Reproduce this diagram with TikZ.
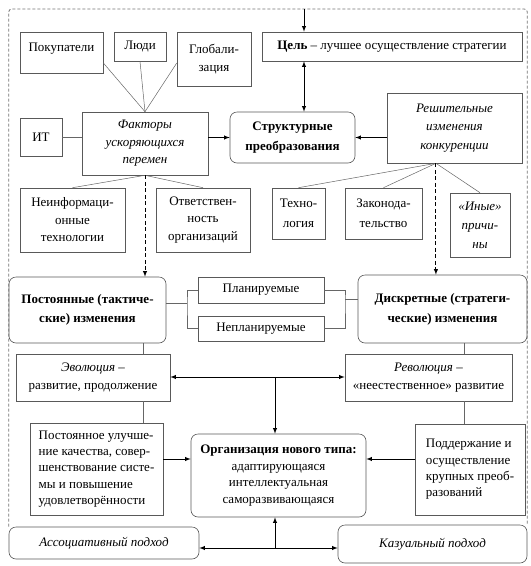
\documentclass[tikz,border=0pt]{standalone}
\usepackage{fontspec}
\setmainfont{Liberation Serif}
\usetikzlibrary{positioning,arrows,calc}

\begin{document}
\begin{tikzpicture}[
    x=1pt,y=-1pt,
    box/.style={rectangle,draw=black!65,line width=0.6pt,inner sep=1pt,align=center,font=\fontsize{13}{17.5}\selectfont},
    rbox/.style={box,rounded corners=7pt},
    tight/.style={font=\fontsize{13}{16.4}\selectfont},
    link/.style={draw=black!60,line width=0.5pt},
    arrow/.style={->,>=latex,line width=0.9pt,black},
    dasharrow/.style={arrow,dash pattern=on 4pt off 2.5pt},
    frame/.style={draw=black!55,line width=0.8pt,dash pattern=on 3pt off 2pt,rounded corners=3pt}
]
\useasboundingbox (0,0) rectangle (531,566);

\node[box,minimum width=83pt,minimum height=41pt] (buyers) at (61.5,52.5) {Покупатели\\[-6pt]};
\node[box,minimum width=52pt,minimum height=29pt] (people) at (140,46.5) {Люди};
\node[box,minimum width=74pt,minimum height=54pt] (glob) at (214,59) {Глобали-\\зация};
\node[box,minimum width=260pt,minimum height=29pt] (goal) at (392,46.5) {\textbf{Цель} – лучшее осуществление стратегии};

\node[box,minimum width=42pt,minimum height=38pt] (it) at (41,137) {ИТ};
\node[box,minimum width=126pt,minimum height=63pt,font=\fontsize{13}{17.5}\selectfont\itshape] (factors) at (145,143.5) {Факторы\\ускоряющихся\\перемен};
\node[rbox,minimum width=125pt,minimum height=51pt,font=\fontsize{13}{20}\selectfont\bfseries] (struct) at (292.5,137.5) {Структурные\\преобразования};
\node[box,minimum width=135pt,minimum height=70pt,font=\fontsize{13}{18.5}\selectfont\itshape] (decisive) at (454.5,128) {Решительные\\изменения\\конкуренции};

\node[box,minimum width=105pt,minimum height=64pt] (nonit) at (72.5,220) {Неинформаци-\\онные\\технологии};
\node[box,minimum width=94pt,minimum height=64pt] (resp) at (203,220) {Ответствен-\\ность\\организаций};
\node[box,minimum width=53pt,minimum height=51pt,font=\fontsize{13}{20}\selectfont] (tech) at (298.5,213.5) {Техно-\\логия};
\node[box,minimum width=77pt,minimum height=51pt,font=\fontsize{13}{20}\selectfont] (law) at (383.5,213.5) {Законода-\\тельство};
\node[box,minimum width=60pt,minimum height=64pt,font=\fontsize{13}{19}\selectfont\itshape] (other) at (480,225) {«Иные»\\причи-\\ны};

\node[rbox,minimum width=157pt,minimum height=66pt,font=\fontsize{13}{19.5}\selectfont\bfseries] (tactic) at (87.5,310) {Постоянные (тактиче-\\ские) изменения};
\node[box,minimum width=126pt,minimum height=26pt] (planned) at (261,290) {Планируемые};
\node[box,minimum width=126pt,minimum height=25pt] (unplanned) at (261,328.5) {Непланируемые};
\node[rbox,minimum width=169pt,minimum height=68pt,font=\fontsize{13}{20}\selectfont\bfseries] (strategic) at (442.5,309) {Дискретные (стратеги-\\ческие) изменения};

\node[box,minimum width=154pt,minimum height=47pt] (evo) at (93,377.5) {\textit{Эволюция} –\\развитие, продолжение};
\node[box,minimum width=167pt,minimum height=47pt] (rev) at (428.5,377.5) {\textit{Революция} –\\«неестественное» развитие};

\node[box,tight,align=left,minimum width=133pt,minimum height=92pt] (improve) at (96.5,469) {Постоянное улучше-\\ние качества, совер-\\шенствование систе-\\мы и повышение\\удовлетворённости};
\node[rbox,tight,minimum width=175pt,minimum height=83pt] (neworg) at (278.5,475.5) {\textbf{Организация нового типа:}\\адаптирующаяся\\интеллектуальная\\саморазвивающаяся};
\node[box,tight,align=left,minimum width=110pt,minimum height=91pt] (support) at (470,469.5) {Поддержание и\\осуществление\\крупных преоб-\\разований};

\node[rbox,minimum width=190pt,minimum height=32pt,font=\fontsize{13}{17.5}\selectfont\itshape] (asso) at (104,543) {Ассоциативный подход};
\node[rbox,minimum width=189pt,minimum height=38pt,font=\fontsize{13}{17.5}\selectfont\itshape] (kaz) at (432.5,544) {Казуальный подход};

\coordinate (frametop) at (304,9);
\coordinate (axis) at (304,0);
\coordinate (dhub) at ($(decisive.south west)!0.363!(decisive.south east)$);
\coordinate (lbrace) at (187,303);
\coordinate (rbrace) at (345,299);
\coordinate (lspine) at (143,0);
\coordinate (rspine) at (464,0);
\coordinate (midhub) at (275,377);
\coordinate (orgaxis) at (0,459);
\coordinate (bottomhub) at (275,548);

\draw[frame] (asso.north west) |- (frametop) -| (kaz.north east);
\draw[arrow] (frametop) -- (axis |- goal.north);
\draw[arrow,<->] (axis |- goal.south) -- (axis |- struct.north);

\draw[link] ($(buyers.east)!0.5!(buyers.south east)$) -- (factors.north);
\draw[link] (people.south) -- (factors.north);
\draw[link] ($(glob.west)!0.15!(glob.south west)$) -- (factors.north);
\draw[link] (it.east) -- (it.east -| factors.west);
\draw[arrow] (factors.east |- struct) -- (struct.west);
\draw[arrow] (decisive.west |- struct) -- (struct.east);

\draw[link] (factors.south) -- (nonit.north);
\draw[link] (factors.south) -- (resp.north);
\draw[link] (dhub) -- (tech.north);
\draw[link] (dhub) -- (law.north);
\draw[link] (dhub) -- (other.north);
\draw[dasharrow] (factors.south) -- (factors.south |- tactic.north);
\draw[dasharrow] (dhub) -- (dhub |- strategic.north);

\draw[link] (tactic.east |- lbrace) -- (lbrace);
\draw[link] (planned.west) -| (lbrace) |- (unplanned.west);
\draw[link] (planned.east) -| (rbrace) |- (unplanned.east);
\draw[link] (rbrace) -- (rbrace -| strategic.west);

\draw[link] (lspine |- tactic.south) -- (lspine |- evo.north);
\draw[link] (lspine |- evo.south) -- (lspine |- improve.north);
\draw[link] (rspine |- strategic.south) -- (rspine |- rev.north);
\draw[link] (rspine |- rev.south) -- (rspine |- support.north);

\draw[arrow,<->] (evo.east |- midhub) -- (rev.west |- midhub);
\draw[arrow] (midhub) -- (midhub |- neworg.north);
\draw[arrow] (improve.east |- orgaxis) -- (neworg.west |- orgaxis);
\draw[arrow] (support.west |- orgaxis) -- (neworg.east |- orgaxis);
\draw[arrow,<->] (asso.east |- bottomhub) -- (kaz.west |- bottomhub);
\draw[arrow] (bottomhub) -- (bottomhub |- neworg.south);

\end{tikzpicture}
\end{document}
